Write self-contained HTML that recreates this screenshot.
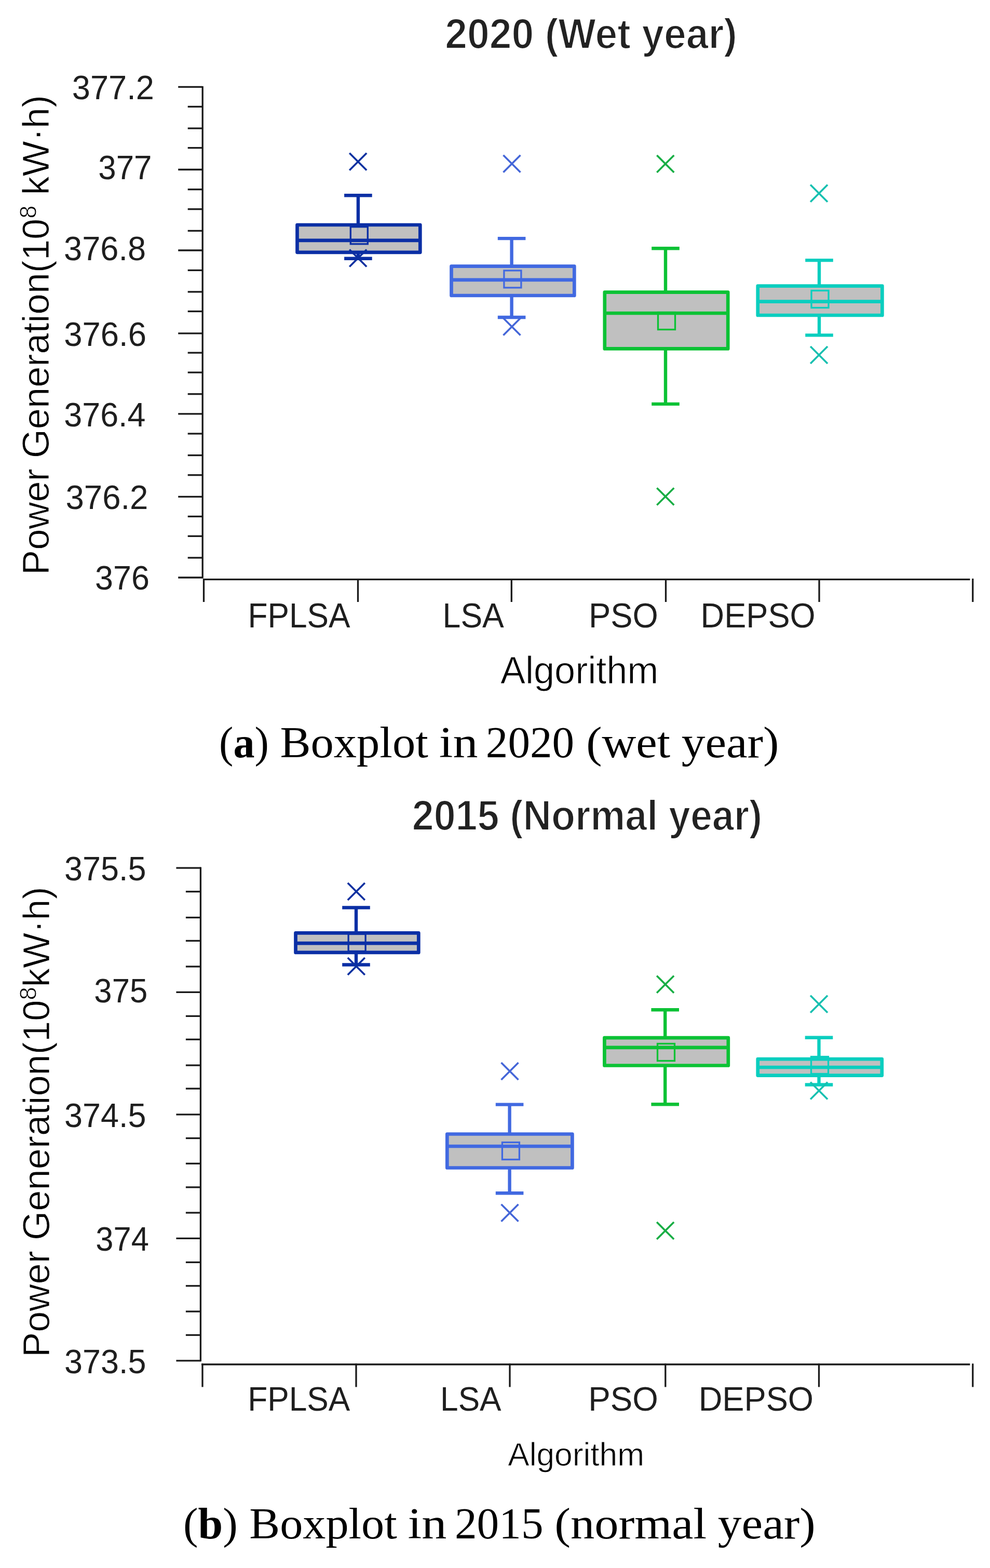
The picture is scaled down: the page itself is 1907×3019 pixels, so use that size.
<!DOCTYPE html><html><head><meta charset="utf-8"><title>Boxplot</title><style>html,body{margin:0;padding:0;background:#fff;}body{width:1907px;height:3019px;}svg{display:block;}</style></head><body>
<svg width="1907" height="3019" viewBox="0 0 1907 3019">
<rect width="1907" height="3019" fill="#ffffff"/>
<line x1="390.2" y1="165.9" x2="390.2" y2="1113.5" stroke="#1a1a1a" stroke-width="3.3"/>
<line x1="343.2" y1="167.4" x2="390.2" y2="167.4" stroke="#1a1a1a" stroke-width="3.3"/>
<line x1="361.7" y1="205.4" x2="390.2" y2="205.4" stroke="#1a1a1a" stroke-width="3.3"/>
<line x1="361.7" y1="247.1" x2="390.2" y2="247.1" stroke="#1a1a1a" stroke-width="3.3"/>
<line x1="361.7" y1="284.7" x2="390.2" y2="284.7" stroke="#1a1a1a" stroke-width="3.3"/>
<line x1="343.2" y1="326.5" x2="390.2" y2="326.5" stroke="#1a1a1a" stroke-width="3.3"/>
<line x1="361.7" y1="364.7" x2="390.2" y2="364.7" stroke="#1a1a1a" stroke-width="3.3"/>
<line x1="361.7" y1="402.7" x2="390.2" y2="402.7" stroke="#1a1a1a" stroke-width="3.3"/>
<line x1="361.7" y1="444.4" x2="390.2" y2="444.4" stroke="#1a1a1a" stroke-width="3.3"/>
<line x1="343.2" y1="482.0" x2="390.2" y2="482.0" stroke="#1a1a1a" stroke-width="3.3"/>
<line x1="361.7" y1="520.4" x2="390.2" y2="520.4" stroke="#1a1a1a" stroke-width="3.3"/>
<line x1="361.7" y1="561.9" x2="390.2" y2="561.9" stroke="#1a1a1a" stroke-width="3.3"/>
<line x1="361.7" y1="599.5" x2="390.2" y2="599.5" stroke="#1a1a1a" stroke-width="3.3"/>
<line x1="343.2" y1="641.9" x2="390.2" y2="641.9" stroke="#1a1a1a" stroke-width="3.3"/>
<line x1="361.7" y1="679.2" x2="390.2" y2="679.2" stroke="#1a1a1a" stroke-width="3.3"/>
<line x1="361.7" y1="717.1" x2="390.2" y2="717.1" stroke="#1a1a1a" stroke-width="3.3"/>
<line x1="361.7" y1="758.7" x2="390.2" y2="758.7" stroke="#1a1a1a" stroke-width="3.3"/>
<line x1="343.2" y1="796.8" x2="390.2" y2="796.8" stroke="#1a1a1a" stroke-width="3.3"/>
<line x1="361.7" y1="835.0" x2="390.2" y2="835.0" stroke="#1a1a1a" stroke-width="3.3"/>
<line x1="361.7" y1="876.6" x2="390.2" y2="876.6" stroke="#1a1a1a" stroke-width="3.3"/>
<line x1="361.7" y1="914.7" x2="390.2" y2="914.7" stroke="#1a1a1a" stroke-width="3.3"/>
<line x1="343.2" y1="956.3" x2="390.2" y2="956.3" stroke="#1a1a1a" stroke-width="3.3"/>
<line x1="361.7" y1="994.4" x2="390.2" y2="994.4" stroke="#1a1a1a" stroke-width="3.3"/>
<line x1="361.7" y1="1032.3" x2="390.2" y2="1032.3" stroke="#1a1a1a" stroke-width="3.3"/>
<line x1="361.7" y1="1073.9" x2="390.2" y2="1073.9" stroke="#1a1a1a" stroke-width="3.3"/>
<line x1="343.2" y1="1112.0" x2="390.2" y2="1112.0" stroke="#1a1a1a" stroke-width="3.3"/>
<line x1="391.0" y1="1115.6" x2="1868.5" y2="1115.6" stroke="#1a1a1a" stroke-width="3.3"/>
<line x1="392.5" y1="1114.0" x2="392.5" y2="1159" stroke="#1a1a1a" stroke-width="3.3"/>
<line x1="689.5" y1="1114.0" x2="689.5" y2="1159" stroke="#1a1a1a" stroke-width="3.3"/>
<line x1="985.3" y1="1114.0" x2="985.3" y2="1159" stroke="#1a1a1a" stroke-width="3.3"/>
<line x1="1282.5" y1="1114.0" x2="1282.5" y2="1159" stroke="#1a1a1a" stroke-width="3.3"/>
<line x1="1578" y1="1114.0" x2="1578" y2="1159" stroke="#1a1a1a" stroke-width="3.3"/>
<line x1="1873.8" y1="1114.0" x2="1873.8" y2="1159" stroke="#1a1a1a" stroke-width="3.3"/>
<rect x="572.5" y="433" width="236.8" height="52.8" fill="#c0c0c0" stroke="#0b2fa5" stroke-width="6.7" stroke-linejoin="round"/>
<line x1="689.9" y1="376.2" x2="689.9" y2="433" stroke="#0b2fa5" stroke-width="6.4"/>
<line x1="689.9" y1="485.8" x2="689.9" y2="497.7" stroke="#0b2fa5" stroke-width="6.4"/>
<line x1="663.1" y1="376.2" x2="716.6999999999999" y2="376.2" stroke="#0b2fa5" stroke-width="6.4"/>
<line x1="663.1" y1="497.7" x2="716.6999999999999" y2="497.7" stroke="#0b2fa5" stroke-width="6.4"/>
<line x1="572.5" y1="462.8" x2="809.3" y2="462.8" stroke="#0b2fa5" stroke-width="6.7"/>
<rect x="675.3" y="436.8" width="33.0" height="33.0" fill="none" stroke="#0b2fa5" stroke-width="3.3"/>
<path d="M673.2 294.7L706.2 327.7M706.2 294.7L673.2 327.7" stroke="#0c30a0" stroke-width="3.6" fill="none"/>
<path d="M673.2 480.5L706.2 513.5M706.2 480.5L673.2 513.5" stroke="#0c30a0" stroke-width="3.6" fill="none"/>
<rect x="869.5" y="512.7" width="236.8" height="56.3" fill="#c0c0c0" stroke="#4169e1" stroke-width="6.7" stroke-linejoin="round"/>
<line x1="985.6" y1="459.1" x2="985.6" y2="512.7" stroke="#4169e1" stroke-width="6.4"/>
<line x1="985.6" y1="569" x2="985.6" y2="611" stroke="#4169e1" stroke-width="6.4"/>
<line x1="958.8000000000001" y1="459.1" x2="1012.4" y2="459.1" stroke="#4169e1" stroke-width="6.4"/>
<line x1="958.8000000000001" y1="611" x2="1012.4" y2="611" stroke="#4169e1" stroke-width="6.4"/>
<line x1="869.5" y1="538.8" x2="1106.3" y2="538.8" stroke="#4169e1" stroke-width="6.7"/>
<rect x="970.9" y="520.9" width="33.0" height="33.0" fill="none" stroke="#4169e1" stroke-width="3.3"/>
<path d="M969.5 298.7L1002.5 331.7M1002.5 298.7L969.5 331.7" stroke="#4466d8" stroke-width="3.6" fill="none"/>
<path d="M969.5 612.6L1002.5 645.6M1002.5 612.6L969.5 645.6" stroke="#4466d8" stroke-width="3.6" fill="none"/>
<rect x="1164.8" y="562.6" width="237.4" height="108.8" fill="#c0c0c0" stroke="#0cc235" stroke-width="6.7" stroke-linejoin="round"/>
<line x1="1282" y1="478.3" x2="1282" y2="562.6" stroke="#0cc235" stroke-width="6.4"/>
<line x1="1282" y1="671.4" x2="1282" y2="777.9" stroke="#0cc235" stroke-width="6.4"/>
<line x1="1255.2" y1="478.3" x2="1308.8" y2="478.3" stroke="#0cc235" stroke-width="6.4"/>
<line x1="1255.2" y1="777.9" x2="1308.8" y2="777.9" stroke="#0cc235" stroke-width="6.4"/>
<line x1="1164.8" y1="603" x2="1402.2" y2="603" stroke="#0cc235" stroke-width="6.7"/>
<rect x="1267.5" y="601.5" width="33.0" height="33.0" fill="none" stroke="#0cc235" stroke-width="3.3"/>
<path d="M1265.3 298.9L1298.3 331.9M1298.3 298.9L1265.3 331.9" stroke="#18ae45" stroke-width="3.6" fill="none"/>
<path d="M1265.3 939.4L1298.3 972.4M1298.3 939.4L1265.3 972.4" stroke="#18ae45" stroke-width="3.6" fill="none"/>
<rect x="1459.7" y="550.7" width="239.7" height="56.3" fill="#c0c0c0" stroke="#0bcebf" stroke-width="6.7" stroke-linejoin="round"/>
<line x1="1578" y1="501.1" x2="1578" y2="550.7" stroke="#0bcebf" stroke-width="6.4"/>
<line x1="1578" y1="607" x2="1578" y2="645.4" stroke="#0bcebf" stroke-width="6.4"/>
<line x1="1551.2" y1="501.1" x2="1604.8" y2="501.1" stroke="#0bcebf" stroke-width="6.4"/>
<line x1="1551.2" y1="645.4" x2="1604.8" y2="645.4" stroke="#0bcebf" stroke-width="6.4"/>
<line x1="1459.7" y1="580.7" x2="1699.4" y2="580.7" stroke="#0bcebf" stroke-width="6.7"/>
<rect x="1563.0" y="559.5" width="33.0" height="33.0" fill="none" stroke="#0bcebf" stroke-width="3.3"/>
<path d="M1561.1 355.8L1594.1 388.8M1594.1 355.8L1561.1 388.8" stroke="#16c0b0" stroke-width="3.6" fill="none"/>
<path d="M1561.1 666.9L1594.1 699.9M1594.1 666.9L1561.1 699.9" stroke="#16c0b0" stroke-width="3.6" fill="none"/>
<line x1="386.4" y1="1669.6" x2="386.4" y2="2621.3" stroke="#1a1a1a" stroke-width="3.3"/>
<line x1="339.4" y1="1671.1" x2="386.4" y2="1671.1" stroke="#1a1a1a" stroke-width="3.3"/>
<line x1="357.9" y1="1716.7" x2="386.4" y2="1716.7" stroke="#1a1a1a" stroke-width="3.3"/>
<line x1="357.9" y1="1766.6" x2="386.4" y2="1766.6" stroke="#1a1a1a" stroke-width="3.3"/>
<line x1="357.9" y1="1811.4" x2="386.4" y2="1811.4" stroke="#1a1a1a" stroke-width="3.3"/>
<line x1="357.9" y1="1861.0" x2="386.4" y2="1861.0" stroke="#1a1a1a" stroke-width="3.3"/>
<line x1="339.4" y1="1910.4" x2="386.4" y2="1910.4" stroke="#1a1a1a" stroke-width="3.3"/>
<line x1="357.9" y1="1956.4" x2="386.4" y2="1956.4" stroke="#1a1a1a" stroke-width="3.3"/>
<line x1="357.9" y1="2001.3" x2="386.4" y2="2001.3" stroke="#1a1a1a" stroke-width="3.3"/>
<line x1="357.9" y1="2051.1" x2="386.4" y2="2051.1" stroke="#1a1a1a" stroke-width="3.3"/>
<line x1="357.9" y1="2096.0" x2="386.4" y2="2096.0" stroke="#1a1a1a" stroke-width="3.3"/>
<line x1="339.4" y1="2145.8" x2="386.4" y2="2145.8" stroke="#1a1a1a" stroke-width="3.3"/>
<line x1="357.9" y1="2191.5" x2="386.4" y2="2191.5" stroke="#1a1a1a" stroke-width="3.3"/>
<line x1="357.9" y1="2240.3" x2="386.4" y2="2240.3" stroke="#1a1a1a" stroke-width="3.3"/>
<line x1="357.9" y1="2285.9" x2="386.4" y2="2285.9" stroke="#1a1a1a" stroke-width="3.3"/>
<line x1="357.9" y1="2335.0" x2="386.4" y2="2335.0" stroke="#1a1a1a" stroke-width="3.3"/>
<line x1="339.4" y1="2384.3" x2="386.4" y2="2384.3" stroke="#1a1a1a" stroke-width="3.3"/>
<line x1="357.9" y1="2430.4" x2="386.4" y2="2430.4" stroke="#1a1a1a" stroke-width="3.3"/>
<line x1="357.9" y1="2475.8" x2="386.4" y2="2475.8" stroke="#1a1a1a" stroke-width="3.3"/>
<line x1="357.9" y1="2525.1" x2="386.4" y2="2525.1" stroke="#1a1a1a" stroke-width="3.3"/>
<line x1="357.9" y1="2570.5" x2="386.4" y2="2570.5" stroke="#1a1a1a" stroke-width="3.3"/>
<line x1="339.4" y1="2619.8" x2="386.4" y2="2619.8" stroke="#1a1a1a" stroke-width="3.3"/>
<line x1="388.0" y1="2627" x2="1868.5" y2="2627" stroke="#1a1a1a" stroke-width="3.3"/>
<line x1="390" y1="2625.4" x2="390" y2="2670.5" stroke="#1a1a1a" stroke-width="3.3"/>
<line x1="686" y1="2625.4" x2="686" y2="2670.5" stroke="#1a1a1a" stroke-width="3.3"/>
<line x1="982" y1="2625.4" x2="982" y2="2670.5" stroke="#1a1a1a" stroke-width="3.3"/>
<line x1="1281.8" y1="2625.4" x2="1281.8" y2="2670.5" stroke="#1a1a1a" stroke-width="3.3"/>
<line x1="1577.5" y1="2625.4" x2="1577.5" y2="2670.5" stroke="#1a1a1a" stroke-width="3.3"/>
<line x1="1873.8" y1="2625.4" x2="1873.8" y2="2670.5" stroke="#1a1a1a" stroke-width="3.3"/>
<rect x="569.5" y="1796.3" width="236.8" height="37.6" fill="#c0c0c0" stroke="#0b2fa5" stroke-width="6.7" stroke-linejoin="round"/>
<line x1="686" y1="1747.5" x2="686" y2="1796.3" stroke="#0b2fa5" stroke-width="6.4"/>
<line x1="686" y1="1833.9" x2="686" y2="1857.5" stroke="#0b2fa5" stroke-width="6.4"/>
<line x1="659.2" y1="1747.5" x2="712.8" y2="1747.5" stroke="#0b2fa5" stroke-width="6.4"/>
<line x1="659.2" y1="1857.5" x2="712.8" y2="1857.5" stroke="#0b2fa5" stroke-width="6.4"/>
<line x1="569.5" y1="1816.1" x2="806.3" y2="1816.1" stroke="#0b2fa5" stroke-width="6.7"/>
<rect x="671.1" y="1798.5" width="33.0" height="33.0" fill="none" stroke="#0b2fa5" stroke-width="3.3"/>
<path d="M669.8 1700.0L702.8 1733.0M702.8 1700.0L669.8 1733.0" stroke="#0c30a0" stroke-width="3.6" fill="none"/>
<path d="M669.8 1844.0L702.8 1877.0M702.8 1844.0L669.8 1877.0" stroke="#0c30a0" stroke-width="3.6" fill="none"/>
<rect x="861.3" y="2183.5" width="241.1" height="65.0" fill="#c0c0c0" stroke="#4169e1" stroke-width="6.7" stroke-linejoin="round"/>
<line x1="981.6" y1="2126.6" x2="981.6" y2="2183.5" stroke="#4169e1" stroke-width="6.4"/>
<line x1="981.6" y1="2248.5" x2="981.6" y2="2297.2" stroke="#4169e1" stroke-width="6.4"/>
<line x1="954.8000000000001" y1="2126.6" x2="1008.4" y2="2126.6" stroke="#4169e1" stroke-width="6.4"/>
<line x1="954.8000000000001" y1="2297.2" x2="1008.4" y2="2297.2" stroke="#4169e1" stroke-width="6.4"/>
<line x1="861.3" y1="2207" x2="1102.4" y2="2207" stroke="#4169e1" stroke-width="6.7"/>
<rect x="967.4" y="2199.5" width="33.0" height="33.0" fill="none" stroke="#4169e1" stroke-width="3.3"/>
<path d="M965.5 2045.9L998.5 2078.9M998.5 2045.9L965.5 2078.9" stroke="#4466d8" stroke-width="3.6" fill="none"/>
<path d="M965.5 2318.8L998.5 2351.8M998.5 2318.8L965.5 2351.8" stroke="#4466d8" stroke-width="3.6" fill="none"/>
<rect x="1164.4" y="1998.2" width="238.4" height="53.3" fill="#c0c0c0" stroke="#0cc235" stroke-width="6.7" stroke-linejoin="round"/>
<line x1="1281.2" y1="1944.2" x2="1281.2" y2="1998.2" stroke="#0cc235" stroke-width="6.4"/>
<line x1="1281.2" y1="2051.5" x2="1281.2" y2="2126.3" stroke="#0cc235" stroke-width="6.4"/>
<line x1="1254.4" y1="1944.2" x2="1308.0" y2="1944.2" stroke="#0cc235" stroke-width="6.4"/>
<line x1="1254.4" y1="2126.3" x2="1308.0" y2="2126.3" stroke="#0cc235" stroke-width="6.4"/>
<line x1="1164.4" y1="2016.8" x2="1402.8" y2="2016.8" stroke="#0cc235" stroke-width="6.7"/>
<rect x="1266.5" y="2009.5" width="33.0" height="33.0" fill="none" stroke="#0cc235" stroke-width="3.3"/>
<path d="M1265.1 1878.7L1298.1 1911.7M1298.1 1878.7L1265.1 1911.7" stroke="#18ae45" stroke-width="3.6" fill="none"/>
<path d="M1265.1 2353.0L1298.1 2386.0M1298.1 2353.0L1265.1 2386.0" stroke="#18ae45" stroke-width="3.6" fill="none"/>
<rect x="1459.7" y="2039.2" width="239.1" height="31.4" fill="#c0c0c0" stroke="#0bcebf" stroke-width="6.7" stroke-linejoin="round"/>
<line x1="1577.5" y1="1997.8" x2="1577.5" y2="2039.2" stroke="#0bcebf" stroke-width="6.4"/>
<line x1="1577.5" y1="2070.6" x2="1577.5" y2="2088.5" stroke="#0bcebf" stroke-width="6.4"/>
<line x1="1550.7" y1="1997.8" x2="1604.3" y2="1997.8" stroke="#0bcebf" stroke-width="6.4"/>
<line x1="1550.7" y1="2088.5" x2="1604.3" y2="2088.5" stroke="#0bcebf" stroke-width="6.4"/>
<line x1="1459.7" y1="2055" x2="1698.8" y2="2055" stroke="#0bcebf" stroke-width="6.7"/>
<rect x="1562.5" y="2034.5" width="33.0" height="33.0" fill="none" stroke="#0bcebf" stroke-width="3.3"/>
<path d="M1561.1 1916.8L1594.1 1949.8M1594.1 1916.8L1561.1 1949.8" stroke="#16c0b0" stroke-width="3.6" fill="none"/>
<path d="M1561.1 2083.5L1594.1 2116.5M1594.1 2083.5L1561.1 2116.5" stroke="#16c0b0" stroke-width="3.6" fill="none"/>
<text transform="matrix(0.9718,0,0,0.9850,138.78,191.31)" font-family="'Liberation Sans', Arial, sans-serif" font-weight="normal" font-size="65" fill="#1e1e1e">377.2</text>
<text transform="matrix(0.9520,0,0,0.9850,189.24,345.06)" font-family="'Liberation Sans', Arial, sans-serif" font-weight="normal" font-size="65" fill="#1e1e1e">377</text>
<text transform="matrix(0.9720,0,0,0.9850,123.08,501.11)" font-family="'Liberation Sans', Arial, sans-serif" font-weight="normal" font-size="65" fill="#1e1e1e">376.8</text>
<text transform="matrix(0.9758,0,0,0.9850,123.27,665.76)" font-family="'Liberation Sans', Arial, sans-serif" font-weight="normal" font-size="65" fill="#1e1e1e">376.6</text>
<text transform="matrix(0.9665,0,0,0.9850,123.30,820.91)" font-family="'Liberation Sans', Arial, sans-serif" font-weight="normal" font-size="65" fill="#1e1e1e">376.4</text>
<text transform="matrix(0.9776,0,0,0.9850,126.47,980.31)" font-family="'Liberation Sans', Arial, sans-serif" font-weight="normal" font-size="65" fill="#1e1e1e">376.2</text>
<text transform="matrix(0.9670,0,0,0.9850,183.10,1134.81)" font-family="'Liberation Sans', Arial, sans-serif" font-weight="normal" font-size="65" fill="#1e1e1e">376</text>
<text transform="matrix(0.9682,0,0,0.9850,124.00,1695.16)" font-family="'Liberation Sans', Arial, sans-serif" font-weight="normal" font-size="65" fill="#1e1e1e">375.5</text>
<text transform="matrix(0.9485,0,0,0.9850,181.35,1930.01)" font-family="'Liberation Sans', Arial, sans-serif" font-weight="normal" font-size="65" fill="#1e1e1e">375</text>
<text transform="matrix(0.9682,0,0,0.9850,124.00,2169.81)" font-family="'Liberation Sans', Arial, sans-serif" font-weight="normal" font-size="65" fill="#1e1e1e">374.5</text>
<text transform="matrix(0.9462,0,0,0.9850,184.36,2407.71)" font-family="'Liberation Sans', Arial, sans-serif" font-weight="normal" font-size="65" fill="#1e1e1e">374</text>
<text transform="matrix(0.9682,0,0,0.9850,124.00,2643.81)" font-family="'Liberation Sans', Arial, sans-serif" font-weight="normal" font-size="65" fill="#1e1e1e">373.5</text>
<text transform="matrix(0.9572,0,0,1.0311,477.51,1208.40)" font-family="'Liberation Sans', Arial, sans-serif" font-weight="normal" font-size="65" fill="#1e1e1e">FPLSA</text>
<text transform="matrix(0.9627,0,0,1.0311,852.59,1208.40)" font-family="'Liberation Sans', Arial, sans-serif" font-weight="normal" font-size="65" fill="#1e1e1e">LSA</text>
<text transform="matrix(0.9752,0,0,1.0311,1133.92,1208.40)" font-family="'Liberation Sans', Arial, sans-serif" font-weight="normal" font-size="65" fill="#1e1e1e">PSO</text>
<text transform="matrix(0.9718,0,0,1.0311,1349.54,1208.40)" font-family="'Liberation Sans', Arial, sans-serif" font-weight="normal" font-size="65" fill="#1e1e1e">DEPSO</text>
<text transform="matrix(0.9572,0,0,1.0022,477.21,2716.30)" font-family="'Liberation Sans', Arial, sans-serif" font-weight="normal" font-size="65" fill="#1e1e1e">FPLSA</text>
<text transform="matrix(0.9559,0,0,1.0022,848.12,2716.30)" font-family="'Liberation Sans', Arial, sans-serif" font-weight="normal" font-size="65" fill="#1e1e1e">LSA</text>
<text transform="matrix(0.9806,0,0,1.0022,1133.20,2716.30)" font-family="'Liberation Sans', Arial, sans-serif" font-weight="normal" font-size="65" fill="#1e1e1e">PSO</text>
<text transform="matrix(0.9732,0,0,1.0022,1345.63,2716.30)" font-family="'Liberation Sans', Arial, sans-serif" font-weight="normal" font-size="65" fill="#1e1e1e">DEPSO</text>
<text transform="matrix(0.9874,0,0,1.0200,963.91,1316.20)" font-family="'Liberation Sans', Arial, sans-serif" font-weight="normal" font-size="73" fill="#000" stroke="#ffffff" stroke-width="0.9">Algorithm</text>
<text transform="matrix(0.9732,0,0,0.9889,978.13,2821.80)" font-family="'Liberation Sans', Arial, sans-serif" font-weight="normal" font-size="64" fill="#000" stroke="#ffffff" stroke-width="0.9">Algorithm</text>
<text transform="matrix(1.0250,0,0,1.0840,857.33,93.38)" font-family="'Liberation Sans', Arial, sans-serif" font-weight="bold" font-size="75" fill="#222" stroke="#ffffff" stroke-width="1.8">2020 (Wet year)</text>
<text transform="matrix(1.0050,0,0,1.0820,793.79,1597.68)" font-family="'Liberation Sans', Arial, sans-serif" font-weight="bold" font-size="75" fill="#222" stroke="#ffffff" stroke-width="1.8">2015 (Normal year)</text>
<text transform="matrix(0.9767,0,0,1.0196,422.09,1457.80)" font-family="'Liberation Serif', 'Times New Roman', serif" font-weight="normal" font-size="84" fill="#000">(<tspan font-weight="bold">a</tspan>)</text>
<text transform="matrix(1.0541,0,0,1.0196,539.49,1457.80)" font-family="'Liberation Serif', 'Times New Roman', serif" font-weight="normal" font-size="84" fill="#000">Boxplot</text>
<text transform="matrix(1.1435,0,0,1.0196,845.71,1457.80)" font-family="'Liberation Serif', 'Times New Roman', serif" font-weight="normal" font-size="84" fill="#000">in</text>
<text transform="matrix(1.0130,0,0,1.0196,935.85,1457.80)" font-family="'Liberation Serif', 'Times New Roman', serif" font-weight="normal" font-size="84" fill="#000">2020</text>
<text transform="matrix(1.0848,0,0,1.0196,1129.16,1457.80)" font-family="'Liberation Serif', 'Times New Roman', serif" font-weight="normal" font-size="84" fill="#000">(wet</text>
<text transform="matrix(1.0887,0,0,1.0196,1312.71,1457.80)" font-family="'Liberation Serif', 'Times New Roman', serif" font-weight="normal" font-size="84" fill="#000">year)</text>
<text transform="matrix(1.0211,0,0,1.0107,353.02,2961.70)" font-family="'Liberation Serif', 'Times New Roman', serif" font-weight="normal" font-size="84" fill="#000">(<tspan font-weight="bold">b</tspan>)</text>
<text transform="matrix(1.0507,0,0,1.0107,480.30,2961.70)" font-family="'Liberation Serif', 'Times New Roman', serif" font-weight="normal" font-size="84" fill="#000">Boxplot</text>
<text transform="matrix(1.1468,0,0,1.0107,785.61,2961.70)" font-family="'Liberation Serif', 'Times New Roman', serif" font-weight="normal" font-size="84" fill="#000">in</text>
<text transform="matrix(1.0155,0,0,1.0107,875.94,2961.70)" font-family="'Liberation Serif', 'Times New Roman', serif" font-weight="normal" font-size="84" fill="#000">2015</text>
<text transform="matrix(1.1019,0,0,1.0107,1068.19,2961.70)" font-family="'Liberation Serif', 'Times New Roman', serif" font-weight="normal" font-size="84" fill="#000">(normal</text>
<text transform="matrix(1.0893,0,0,1.0107,1382.81,2961.70)" font-family="'Liberation Serif', 'Times New Roman', serif" font-weight="normal" font-size="84" fill="#000">year)</text>
<text transform="translate(94.40,1106.93) rotate(-90) scale(0.9889,0.9900)" font-family="'Liberation Sans', Arial, sans-serif" font-weight="normal" font-size="73" fill="#000" stroke="#ffffff" stroke-width="0.9">Power Generation(10<tspan font-size="46" dy="-25">8</tspan><tspan dy="25"> kW·h)</tspan></text>
<text transform="translate(94.80,2613.15) rotate(-90) scale(0.9909,0.9900)" font-family="'Liberation Sans', Arial, sans-serif" font-weight="normal" font-size="73" fill="#000" stroke="#ffffff" stroke-width="0.9">Power Generation(10<tspan font-size="46" dy="-25">8</tspan><tspan dy="25">kW·h)</tspan></text>
</svg></body></html>
